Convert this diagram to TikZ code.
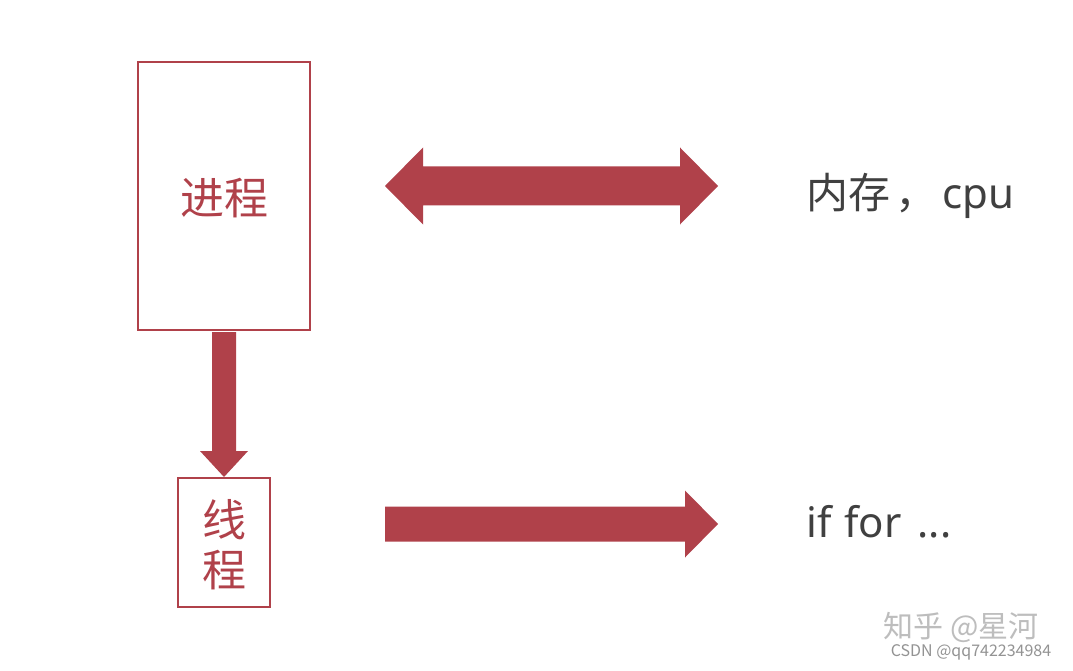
\documentclass[tikz,border=0pt]{standalone}
\usepackage{fontspec}
\setmainfont{Noto Sans CJK SC}
\newfontfamily\latinf{Noto Sans}
\usetikzlibrary{calc}
\definecolor{brick}{HTML}{B0414A}
\definecolor{txtgray}{HTML}{404040}
\definecolor{wmgray}{HTML}{BDBDBD}
\begin{document}
\begin{tikzpicture}[x=1pt,y=-1pt,
  boxred/.style={draw=brick,line width=2pt,fill=white,inner sep=0pt},
  redtxt/.style={text=brick,font=\fontsize{44}{50}\selectfont,align=center},
  graytxt/.style={text=txtgray,font=\fontsize{42}{50}\selectfont,inner sep=0pt},
  arr/.style={fill=brick,draw=none}]
\fill[white] (0,0) rectangle (1073,671);
\useasboundingbox (0,0) rectangle (1073,671);
% boxes
\node[boxred,minimum width=172pt,minimum height=268pt] (big) at (224,196) {};
\node[redtxt] (bigtxt) at (224,198) {进程};
\node[boxred,minimum width=92pt,minimum height=129pt] (small) at (224,542.5) {};
\node[redtxt] (smalltxt) at (224,545) {线\\程};
% right texts
\node[graytxt,anchor=west] (mem) at (806,196) {内存\hspace{5pt}，\hspace{5pt}{\latinf cpu}};
\node[graytxt,anchor=base west] (iff) at (806,537) {\latinf if\hspace{13pt}for\hspace{16pt}...};
% down arrow from big to small
\fill[arr] ($(big.south)+(-12,1)$) -- ($(small.north)+(-12,-26)$) -- ($(small.north)+(-24,-26)$)
  -- ($(small.north)+(0,0)$) -- ($(small.north)+(24,-26)$) -- ($(small.north)+(12,-26)$)
  -- ($(big.south)+(12,1)$) -- cycle;
% double arrow
\coordinate (dl) at (385,186);
\coordinate (dr) at (718,186);
\fill[arr] (dl) -- ($(dl)+(38,-38.5)$) -- ($(dl)+(38,-19.5)$) -- ($(dr)+(-38,-19.5)$)
  -- ($(dr)+(-38,-38.5)$) -- (dr) -- ($(dr)+(-38,38.5)$) -- ($(dr)+(-38,19.5)$)
  -- ($(dl)+(38,19.5)$) -- ($(dl)+(38,38.5)$) -- cycle;
% single arrow
\coordinate (sl) at (385,524);
\coordinate (sr) at (718,524);
\fill[arr] ($(sl)+(0,-17.5)$) -- ($(sr)+(-33,-17.5)$) -- ($(sr)+(-33,-33.5)$) -- (sr)
  -- ($(sr)+(-33,33.5)$) -- ($(sr)+(-33,17.5)$) -- ($(sl)+(0,17.5)$) -- cycle;
% watermark
\node[text=wmgray,font=\fontsize{30}{34}\selectfont,inner sep=0pt] (wm1) at (961,627) {知乎 @星河};
\node[text=gray!85,font=\fontsize{16}{18}\selectfont,inner sep=0pt] (wm2) at (971,652) {CSDN @qq742234984};
\end{tikzpicture}
\end{document}
